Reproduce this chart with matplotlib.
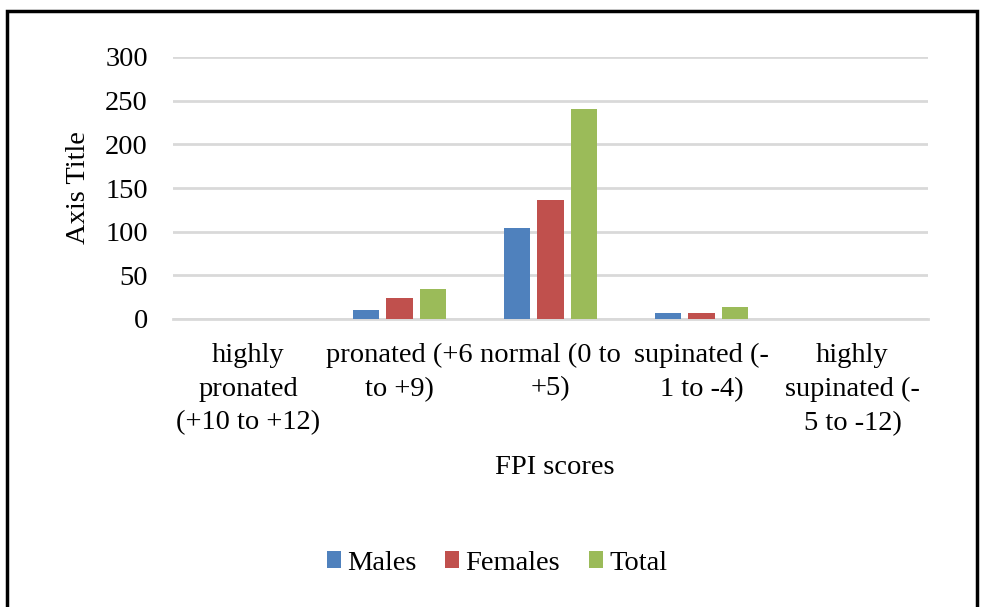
import matplotlib.pyplot as plt
import numpy as np
from matplotlib.patches import Rectangle

plt.rcParams['font.family'] = 'serif'
plt.rcParams['font.serif'] = ['Liberation Serif']

categories = ["highly\npronated\n(+10 to +12)", "pronated (+6\nto +9)", "normal (0 to\n+5)",
              "supinated (-\n1 to -4)", "highly\nsupinated (-\n5 to -12)"]
males = [0, 10, 104, 7, 0]
females = [0, 24, 136, 7, 0]
total = [0, 34, 240, 14, 0]
series_names = ["Males", "Females", "Total"]
colors = ["#4F81BD", "#C0504D", "#9BBB59"]

fs = 20.5

fig = plt.figure(figsize=(9.85, 6.07), dpi=100)
ax = fig.add_axes([173 / 985, 1 - 319 / 607, (928 - 173) / 985, (319 - 57) / 607])

x = np.arange(len(categories))
w = 0.177
step = 0.221
for i, (vals, name, c) in enumerate(zip([males, females, total], series_names, colors)):
    ax.bar(x + (i - 1) * step, vals, width=w, color=c, label=name, zorder=3)

ax.set_xlim(-0.5, len(categories) - 0.5)
ax.set_ylim(0, 300)
ax.set_yticks(range(0, 301, 50))
ax.yaxis.grid(True, color="#d9d9d9", linewidth=2, zorder=0)
ax.set_xticks(x)
ax.set_xticklabels(categories, fontsize=fs, linespacing=1.47, va="top")
ax.tick_params(axis="both", length=0, labelsize=fs)
ax.tick_params(axis="x", pad=17)
ax.tick_params(axis="y", pad=18)
for s in ["top", "right", "left"]:
    ax.spines[s].set_visible(False)
ax.spines["bottom"].set_color("#d9d9d9")
ax.spines["bottom"].set_linewidth(2)

ax.set_ylabel("Axis Title", fontsize=fs, labelpad=10)
fig.text(555 / 985, 1 - 468 / 607, "FPI scores", fontsize=fs, ha="center", va="center")

leg = fig.legend(loc="center", bbox_to_anchor=(497 / 985, 1 - 563 / 607), ncol=3, frameon=False,
                 fontsize=fs, handlelength=0.5, handleheight=0.5, handletextpad=0.22, columnspacing=1.0)

fig.patches.append(Rectangle((7 / 985, -0.05), (977 - 7) / 985, 1.05 - 11 / 607,
                             transform=fig.transFigure, fill=False, edgecolor="black", linewidth=2.5))

fig.savefig("out.png", dpi=100)
